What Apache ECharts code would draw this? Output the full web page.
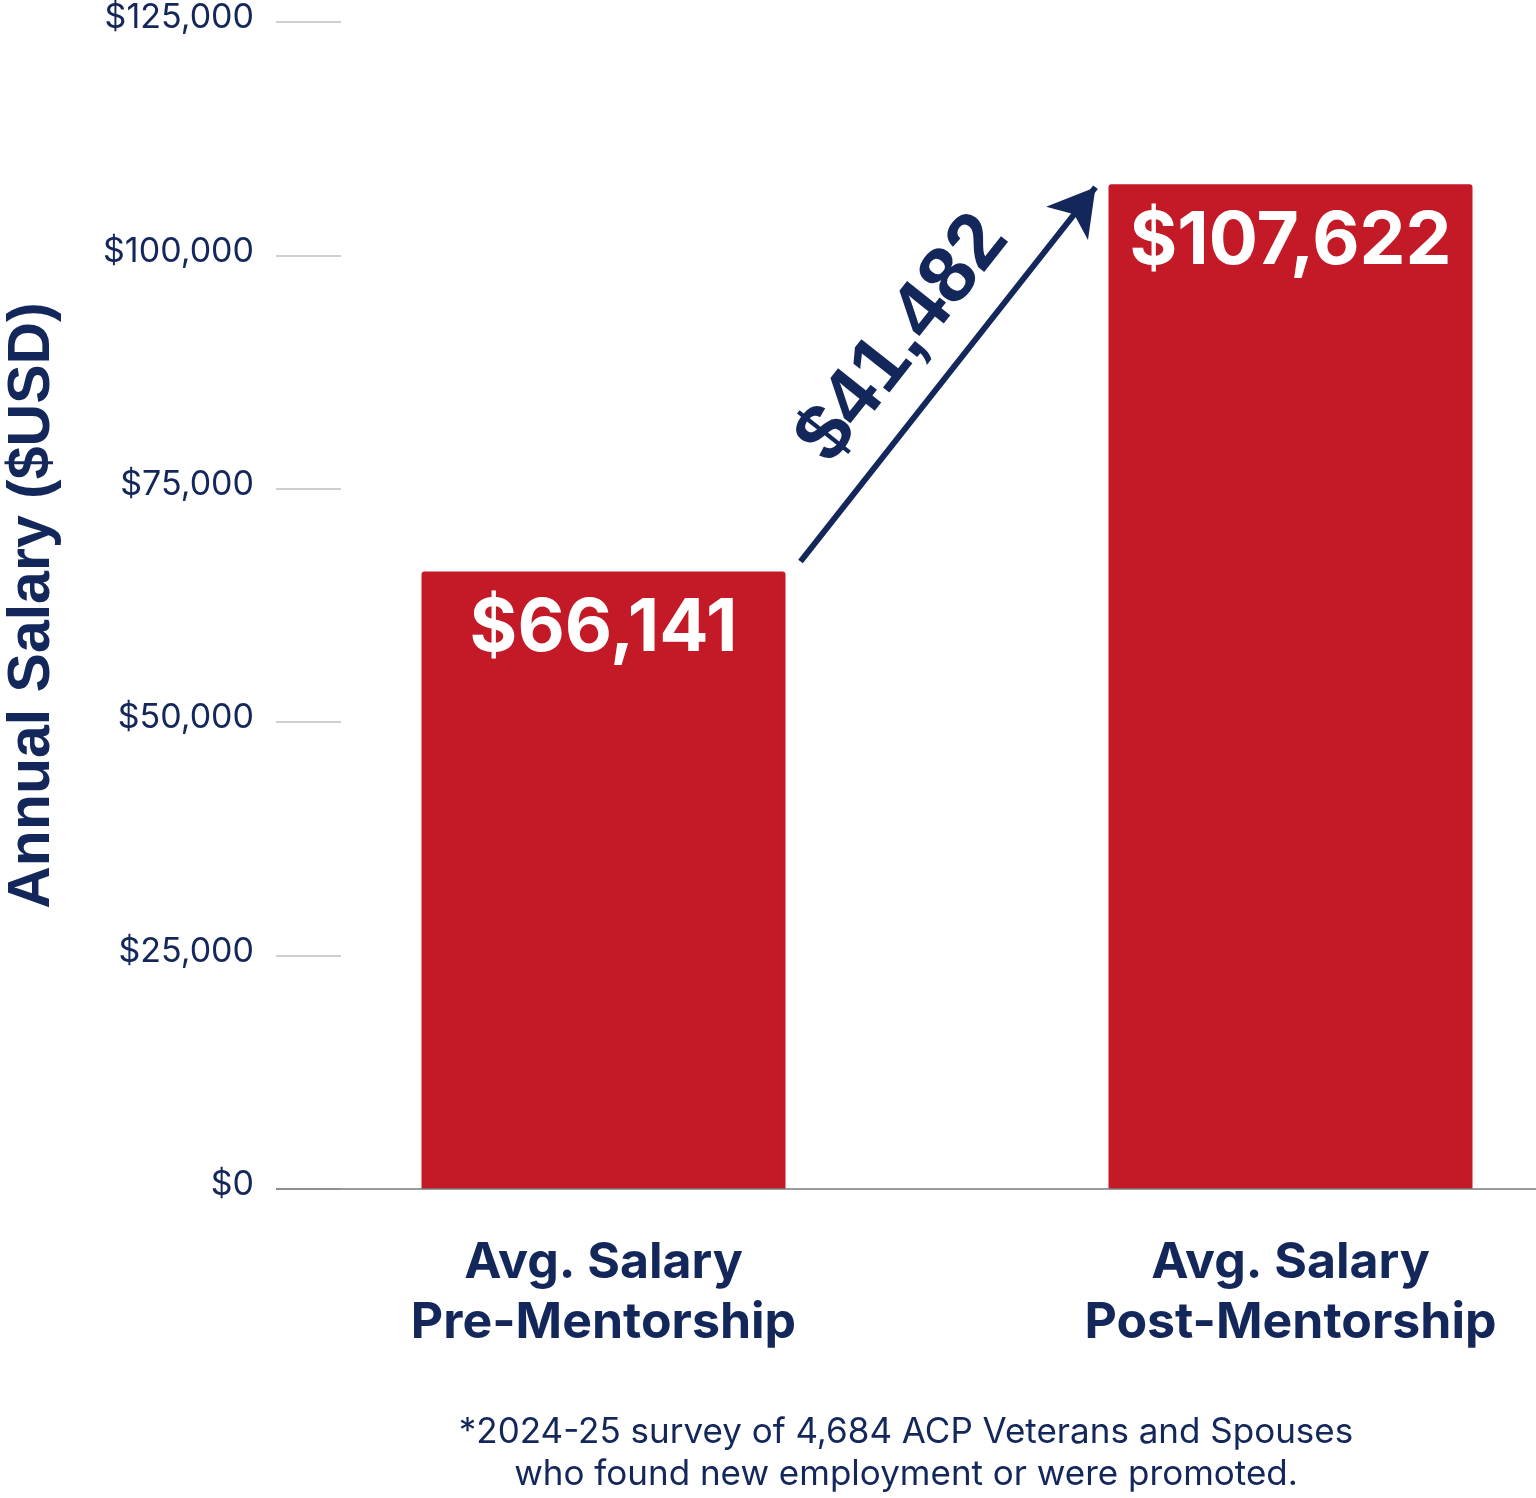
<!DOCTYPE html>
<html>
<head>
<meta charset="utf-8">
<title>Avg. Salary Pre/Post Mentorship</title>
<script src="https://cdn.jsdelivr.net/npm/echarts@6/dist/echarts.min.js"></script>
<style>
  html, body { margin: 0; padding: 0; background: #fff; }
  #chart { width: 1536px; height: 1498px; }
</style>
</head>
<body>
<div id="chart"></div>
<script>
// data
var categories = ['Avg. Salary\nPre-Mentorship', 'Avg. Salary\nPost-Mentorship'];
var salaries = [66141, 107622];
var increaseText = '$41,482';
var yMin = 0, yMax = 125000, yStep = 25000;
var footnote = '*2024-25 survey of 4,684 ACP Veterans and Spouses\nwho found new employment or were promoted.';

var NAVY = '#13275a';
var RED = '#c41a27';
var BAR_W = 364;

function money(v) {
  return '$' + Number(v).toLocaleString('en-US');
}

var chart = echarts.init(document.getElementById('chart'));

var option = {
  backgroundColor: '#fff',
  animation: false,
  textStyle: { fontFamily: 'Inter' },
  grid: { left: 260, top: 22, width: 1374, bottom: 309, outerBoundsMode: 'none', containLabel: false },
  xAxis: {
    type: 'category',
    data: categories,
    axisLine: { show: false },
    axisTick: { show: false },
    axisLabel: {
      color: NAVY,
      fontFamily: 'Inter',
      fontWeight: 'bold',
      fontSize: 50,
      lineHeight: 60,
      margin: 44
    }
  },
  yAxis: {
    type: 'value',
    min: yMin,
    max: yMax,
    interval: yStep,
    offset: -16,
    name: 'Annual Salary ($USD)',
    nameLocation: 'middle',
    nameRotate: 90,
    nameGap: 214,
    nameTextStyle: {
      color: NAVY,
      fontFamily: 'Liberation Sans',
      fontWeight: 'bold',
      fontSize: 59
    },
    axisLine: { show: false },
    axisTick: { show: true, inside: true, length: 65, lineStyle: { color: '#cfcfcf', width: 2 } },
    splitLine: { show: false },
    axisLabel: {
      color: NAVY,
      fontFamily: 'Inter',
      fontSize: 34,
      margin: 22,
      verticalAlign: 'bottom',
      lineHeight: 40,
      padding: [0, 0, -16, 0],
      formatter: money
    }
  },
  series: [{
    type: 'bar',
    data: salaries,
    barWidth: BAR_W,
    itemStyle: { color: RED, borderRadius: [3, 3, 0, 0] },
    label: {
      show: true,
      position: 'insideTop',
      distance: 18,
      color: '#fff',
      fontFamily: 'Inter',
      fontWeight: 'bold',
      fontSize: 73,
      lineHeight: 80,
      formatter: function (p) { return money(p.value); }
    }
  }],
  graphic: [{
    type: 'text',
    style: {
      text: footnote,
      x: 906,
      y: 1411,
      textAlign: 'center',
      textVerticalAlign: 'top',
      fill: NAVY,
      font: '35px Inter',
      lineHeight: 42
    }
  }]
};

chart.setOption(option);

// arrow and baseline placed from the axes' own scales
var p1 = chart.convertToPixel({ seriesIndex: 0 }, [0, salaries[0]]);
var p2 = chart.convertToPixel({ seriesIndex: 0 }, [1, salaries[1]]);
var y0 = chart.convertToPixel({ yAxisIndex: 0 }, 0);

chart.setOption({
  series: [{
    markLine: {
      silent: true,
      animation: false,
      data: [
        [
          { x: p1[0] + BAR_W / 2 + 15, y: p1[1] - 10, symbol: 'none' },
          { x: p2[0] - BAR_W / 2 - 13, y: p2[1] + 3, symbol: 'arrow', symbolSize: [40, 46] }
        ],
        [
          { x: 276, y: y0, symbol: 'none', lineStyle: { color: '#7a7a7a', width: 1.5, type: 'solid' }, label: { show: false } },
          { x: 1536, y: y0, symbol: 'none' }
        ]
      ],
      lineStyle: { color: NAVY, width: 6, type: 'solid' },
      label: {
        show: true,
        position: 'insideMiddleTop',
        distance: 17,
        formatter: increaseText,
        color: NAVY,
        fontFamily: 'Liberation Sans',
        fontWeight: 'bold',
        fontSize: 80
      }
    }
  }]
});
</script>
</body>
</html>
